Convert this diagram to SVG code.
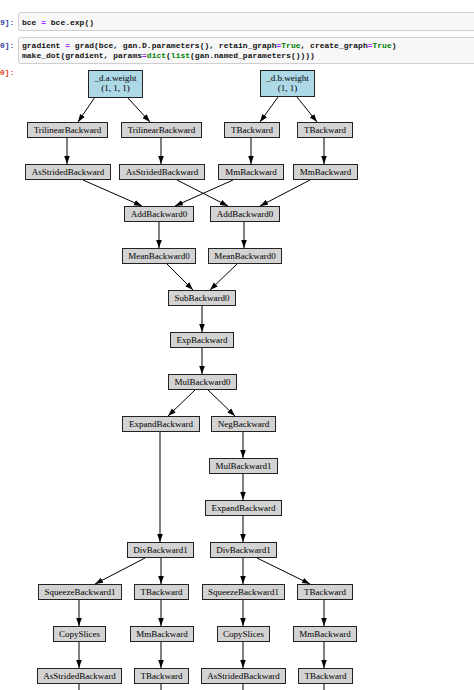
<svg xmlns="http://www.w3.org/2000/svg" width="474" height="690" viewBox="0 0 474 690">
<style>
.cell{fill:#f7f7f7;stroke:#cfcfcf;stroke-width:1}
.code{font-family:"Liberation Mono","DejaVu Sans Mono",monospace;font-size:8px;fill:#111;font-weight:bold}
.op{fill:#aa22ff;font-weight:bold}
.kw{fill:#008000;font-weight:bold}
.bi{fill:#008000}
.pin{fill:#303f9f}
.pout{fill:#d84315}
.n rect{fill:#d3d3d3;stroke:#222;stroke-width:1}
.p rect{fill:#add8e6;stroke:#222;stroke-width:1}
.n text,.p text{font-family:"Liberation Serif","Times New Roman",serif;font-size:9px;fill:#000;text-anchor:middle}
#edges line{stroke:#000;stroke-width:1}
#edges .a{marker-end:url(#ah)}
</style>
<defs>
<marker id="ah" viewBox="0 0 10 7" refX="10" refY="3.5" markerWidth="8" markerHeight="6" markerUnits="userSpaceOnUse" orient="auto">
<path d="M0,0 L10,3.5 L0,7 z" fill="#000"/>
</marker>
</defs>
<rect width="474" height="690" fill="#fff"/>
<g id="notebook">
<rect class="cell" x="18.5" y="12.5" width="470" height="18" rx="2"/>
<rect class="cell" x="18.5" y="37.5" width="470" height="26" rx="2"/>
<text class="code pin" x="0" y="25">9]:</text>
<text class="code" x="22" y="25">bce <tspan class="op">=</tspan> bce.exp()</text>
<text class="code pin" x="0" y="48">0]:</text>
<text class="code" x="22" y="48">gradient <tspan class="op">=</tspan> grad(bce, gan.D.parameters(), retain_graph<tspan class="op">=</tspan><tspan class="kw">True</tspan>, create_graph<tspan class="op">=</tspan><tspan class="kw">True</tspan>)</text>
<text class="code" x="22" y="58">make_dot(gradient, params<tspan class="op">=</tspan><tspan class="bi">dict</tspan>(<tspan class="bi">list</tspan>(gan.named_parameters())))</text>
<text class="code pout" x="0" y="75">0]:</text>
</g>
<g id="edges">
<line class="a" x1="95" y1="97" x2="78" y2="122"/>
<line class="a" x1="127" y1="97" x2="150" y2="122"/>
<line class="a" x1="278" y1="97" x2="260" y2="122"/>
<line class="a" x1="297" y1="97" x2="317" y2="122"/>
<line class="a" x1="67" y1="138" x2="67" y2="164"/>
<line class="a" x1="161" y1="138" x2="161" y2="164"/>
<line class="a" x1="251" y1="138" x2="251" y2="164"/>
<line class="a" x1="324" y1="138" x2="324" y2="164"/>
<line class="a" x1="83" y1="180" x2="142" y2="206"/>
<line class="a" x1="233" y1="180" x2="175" y2="206"/>
<line class="a" x1="177" y1="180" x2="228" y2="206"/>
<line class="a" x1="310" y1="180" x2="260" y2="206"/>
<line class="a" x1="159" y1="222" x2="159" y2="248"/>
<line class="a" x1="244" y1="222" x2="244" y2="248"/>
<line class="a" x1="167" y1="264" x2="193" y2="290"/>
<line class="a" x1="237" y1="264" x2="210" y2="290"/>
<line class="a" x1="202" y1="306" x2="202" y2="332"/>
<line class="a" x1="202" y1="348" x2="202" y2="374"/>
<line class="a" x1="195" y1="390" x2="168" y2="416"/>
<line class="a" x1="208" y1="390" x2="235" y2="416"/>
<line class="a" x1="160" y1="432" x2="160" y2="542"/>
<line class="a" x1="243" y1="432" x2="243" y2="458"/>
<line class="a" x1="243" y1="474" x2="243" y2="500"/>
<line class="a" x1="243" y1="516" x2="243" y2="542"/>
<line class="a" x1="145" y1="558" x2="95" y2="584"/>
<line class="a" x1="161" y1="558" x2="161" y2="584"/>
<line class="a" x1="243" y1="558" x2="243" y2="584"/>
<line class="a" x1="257" y1="558" x2="310" y2="584"/>
<line class="a" x1="79" y1="600" x2="79" y2="626"/>
<line class="a" x1="161" y1="600" x2="161" y2="626"/>
<line class="a" x1="243" y1="600" x2="243" y2="626"/>
<line class="a" x1="324" y1="600" x2="324" y2="626"/>
<line class="a" x1="79" y1="642" x2="79" y2="668"/>
<line class="a" x1="161" y1="642" x2="161" y2="668"/>
<line class="a" x1="243" y1="642" x2="243" y2="668"/>
<line class="a" x1="324" y1="642" x2="324" y2="668"/>
<line x1="79" y1="684" x2="79" y2="690"/>
<line x1="161" y1="684" x2="161" y2="690"/>
<line x1="243" y1="684" x2="243" y2="690"/>
<line x1="324" y1="684" x2="324" y2="690"/>
</g>
<g id="wa" class="p"><rect x="88.5" y="70.5" width="54" height="27"/><text x="115.5" y="81">_d.a.weight</text><text x="115.5" y="91">(1, 1, 1)</text></g>
<g id="wb" class="p"><rect x="260.5" y="70.5" width="54" height="26"/><text x="287.5" y="81">_d.b.weight</text><text x="287.5" y="91">(1, 1)</text></g>
<g id="tri1" class="n"><rect x="27.5" y="122.5" width="80" height="15"/><text x="67.5" y="133">TrilinearBackward</text></g>
<g id="tri2" class="n"><rect x="121.5" y="122.5" width="80" height="15"/><text x="161.5" y="133">TrilinearBackward</text></g>
<g id="tb1" class="n"><rect x="224.5" y="122.5" width="55" height="15"/><text x="252" y="133">TBackward</text></g>
<g id="tb2" class="n"><rect x="297.5" y="122.5" width="55" height="15"/><text x="325" y="133">TBackward</text></g>
<g id="as1" class="n"><rect x="25.5" y="164.5" width="85" height="15"/><text x="68" y="175">AsStridedBackward</text></g>
<g id="as2" class="n"><rect x="119.5" y="164.5" width="85" height="15"/><text x="162" y="175">AsStridedBackward</text></g>
<g id="mm1" class="n"><rect x="218.5" y="164.5" width="65" height="15"/><text x="251" y="175">MmBackward</text></g>
<g id="mm2" class="n"><rect x="293.5" y="164.5" width="64" height="15"/><text x="325.5" y="175">MmBackward</text></g>
<g id="add1" class="n"><rect x="124.5" y="206.5" width="69" height="15"/><text x="159" y="217">AddBackward0</text></g>
<g id="add2" class="n"><rect x="210.5" y="206.5" width="69" height="15"/><text x="245" y="217">AddBackward0</text></g>
<g id="mean1" class="n"><rect x="122.5" y="248.5" width="73" height="15"/><text x="159" y="259">MeanBackward0</text></g>
<g id="mean2" class="n"><rect x="208.5" y="248.5" width="73" height="15"/><text x="245" y="259">MeanBackward0</text></g>
<g id="sub" class="n"><rect x="168.5" y="290.5" width="67" height="15"/><text x="202" y="301">SubBackward0</text></g>
<g id="exp" class="n"><rect x="170.5" y="332.5" width="63" height="15"/><text x="202" y="343">ExpBackward</text></g>
<g id="mul0" class="n"><rect x="168.5" y="374.5" width="68" height="15"/><text x="202.5" y="385">MulBackward0</text></g>
<g id="expand1" class="n"><rect x="122.5" y="416.5" width="77" height="15"/><text x="161" y="427">ExpandBackward</text></g>
<g id="neg" class="n"><rect x="211.5" y="416.5" width="64" height="15"/><text x="243.5" y="427">NegBackward</text></g>
<g id="mul1" class="n"><rect x="209.5" y="458.5" width="68" height="15"/><text x="243.5" y="469">MulBackward1</text></g>
<g id="expand2" class="n"><rect x="205.5" y="500.5" width="76" height="15"/><text x="243.5" y="511">ExpandBackward</text></g>
<g id="div1" class="n"><rect x="127.5" y="542.5" width="66" height="15"/><text x="160.5" y="553">DivBackward1</text></g>
<g id="div2" class="n"><rect x="210.5" y="542.5" width="66" height="15"/><text x="243.5" y="553">DivBackward1</text></g>
<g id="sq1" class="n"><rect x="38.5" y="584.5" width="83" height="15"/><text x="80" y="595">SqueezeBackward1</text></g>
<g id="tb3" class="n"><rect x="134.5" y="584.5" width="54" height="15"/><text x="161.5" y="595">TBackward</text></g>
<g id="sq2" class="n"><rect x="202.5" y="584.5" width="82" height="15"/><text x="243.5" y="595">SqueezeBackward1</text></g>
<g id="tb4" class="n"><rect x="297.5" y="584.5" width="55" height="15"/><text x="325" y="595">TBackward</text></g>
<g id="cs1" class="n"><rect x="53.5" y="626.5" width="52" height="15"/><text x="79.5" y="637">CopySlices</text></g>
<g id="mm3" class="n"><rect x="130.5" y="626.5" width="63" height="15"/><text x="162" y="637">MmBackward</text></g>
<g id="cs2" class="n"><rect x="217.5" y="626.5" width="52" height="15"/><text x="243.5" y="637">CopySlices</text></g>
<g id="mm4" class="n"><rect x="293.5" y="626.5" width="63" height="15"/><text x="325" y="637">MmBackward</text></g>
<g id="as3" class="n"><rect x="37.5" y="668.5" width="84" height="15"/><text x="79.5" y="679">AsStridedBackward</text></g>
<g id="tb5" class="n"><rect x="134.5" y="668.5" width="54" height="15"/><text x="161.5" y="679">TBackward</text></g>
<g id="as4" class="n"><rect x="201.5" y="668.5" width="84" height="15"/><text x="243.5" y="679">AsStridedBackward</text></g>
<g id="tb6" class="n"><rect x="298.5" y="668.5" width="54" height="15"/><text x="325.5" y="679">TBackward</text></g>
</svg>
